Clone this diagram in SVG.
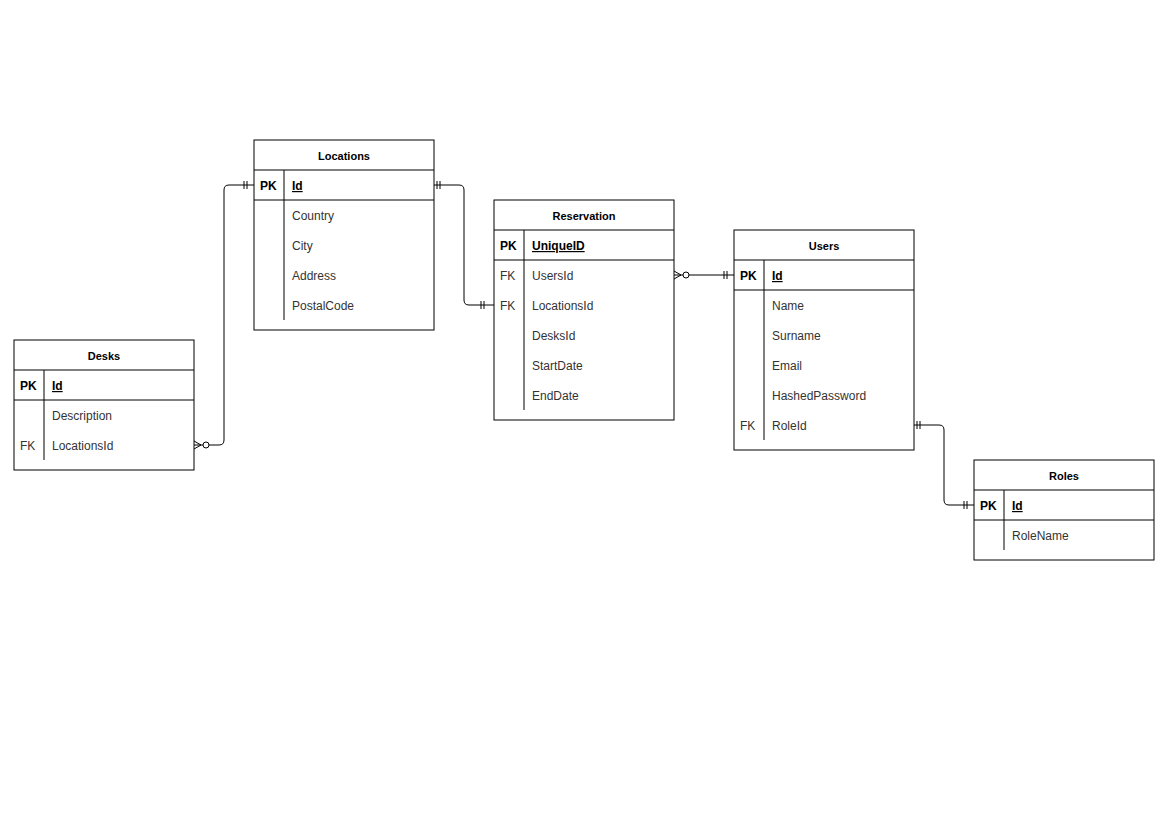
<svg xmlns="http://www.w3.org/2000/svg" width="1169" height="827" viewBox="0 0 1169 827">
<style>
.b{fill:#fff;stroke:#000;stroke-width:1}
.l{stroke:#000;stroke-width:1;fill:none}
text{font-family:"Liberation Sans",Arial,sans-serif;font-size:12px;fill:#333}
.t{font-weight:bold;font-size:11px;text-anchor:middle;fill:#000}
.k{font-weight:bold;fill:#000}
.u{font-weight:bold;text-decoration:underline;fill:#000}
</style>
<rect width="1169" height="827" fill="#fff"/>
<g id="connectors" class="l">
<path d="M194 445 H219 Q224 445 224 440 V190 Q224 185 229 185 H254"/>
<path d="M194 441 L201 445 L194 449"/><circle cx="206" cy="445" r="3" fill="#fff"/>
<path d="M244 181 V189 M247 181 V189"/>
<path d="M434 185 H459 Q464 185 464 190 V300 Q464 305 469 305 H494"/>
<path d="M437 181 V189 M440 181 V189 M481 301 V309 M484 301 V309"/>
<path d="M674 275 H734"/>
<path d="M674 271 L681 275 L674 279"/><circle cx="686" cy="275" r="3" fill="#fff"/>
<path d="M724 271 V279 M727 271 V279"/>
<path d="M914 425 H939 Q944 425 944 430 V500 Q944 505 949 505 H974"/>
<path d="M917 421 V429 M920 421 V429 M964 501 V509 M967 501 V509"/>
</g>
<g id="locations">
<rect class="b" x="254" y="140" width="180" height="190"/>
<path class="l" d="M254 170 H434 M254 200 H434 M284 170 V320"/>
<text class="t" x="344" y="160">Locations</text>
<text class="k" x="260" y="190">PK</text><text class="u" x="292" y="190">Id</text>
<text x="292" y="220">Country</text><text x="292" y="250">City</text><text x="292" y="280">Address</text><text x="292" y="310">PostalCode</text>
</g>
<g id="desks">
<rect class="b" x="14" y="340" width="180" height="130"/>
<path class="l" d="M14 370 H194 M14 400 H194 M44 370 V460"/>
<text class="t" x="104" y="360">Desks</text>
<text class="k" x="20" y="390">PK</text><text class="u" x="52" y="390">Id</text>
<text x="52" y="420">Description</text>
<text x="20" y="450">FK</text><text x="52" y="450">LocationsId</text>
</g>
<g id="reservation">
<rect class="b" x="494" y="200" width="180" height="220"/>
<path class="l" d="M494 230 H674 M494 260 H674 M524 230 V410"/>
<text class="t" x="584" y="220">Reservation</text>
<text class="k" x="500" y="250">PK</text><text class="u" x="532" y="250">UniqueID</text>
<text x="500" y="280">FK</text><text x="532" y="280">UsersId</text>
<text x="500" y="310">FK</text><text x="532" y="310">LocationsId</text>
<text x="532" y="340">DesksId</text><text x="532" y="370">StartDate</text><text x="532" y="400">EndDate</text>
</g>
<g id="users">
<rect class="b" x="734" y="230" width="180" height="220"/>
<path class="l" d="M734 260 H914 M734 290 H914 M764 260 V440"/>
<text class="t" x="824" y="250">Users</text>
<text class="k" x="740" y="280">PK</text><text class="u" x="772" y="280">Id</text>
<text x="772" y="310">Name</text><text x="772" y="340">Surname</text><text x="772" y="370">Email</text><text x="772" y="400">HashedPassword</text>
<text x="740" y="430">FK</text><text x="772" y="430">RoleId</text>
</g>
<g id="roles">
<rect class="b" x="974" y="460" width="180" height="100"/>
<path class="l" d="M974 490 H1154 M974 520 H1154 M1004 490 V550"/>
<text class="t" x="1064" y="480">Roles</text>
<text class="k" x="980" y="510">PK</text><text class="u" x="1012" y="510">Id</text>
<text x="1012" y="540">RoleName</text>
</g>
</svg>
